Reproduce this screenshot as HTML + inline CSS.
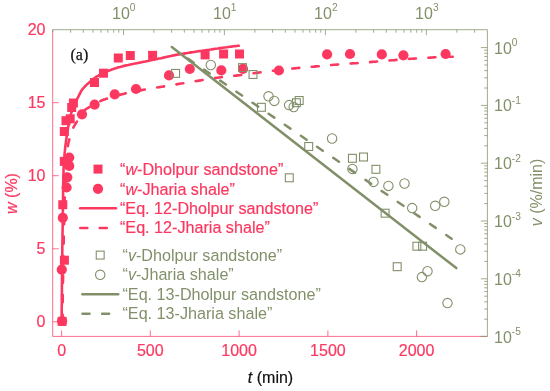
<!DOCTYPE html>
<html><head><meta charset="utf-8"><title>chart</title>
<style>html,body{margin:0;padding:0;background:#fff}svg{display:block}text{font-family:"Liberation Sans",Arial,sans-serif}</style></head>
<body>
<svg width="550" height="391" viewBox="0 0 550 391">
<rect width="550" height="391" fill="#fff"/>
<g stroke="#fc3860" stroke-width="1.0" fill="none" stroke-opacity="0.72">
<path d="M52.7 29.7V336.4H487.4"/>
<path d="M52.7 321.8h6"/>
<path d="M52.7 248.8h6"/>
<path d="M52.7 175.7h6"/>
<path d="M52.7 102.7h6"/>
<path d="M61.6 336.4v-6"/>
<path d="M150.3 336.4v-6"/>
<path d="M239.1 336.4v-6"/>
<path d="M327.9 336.4v-6"/>
<path d="M416.6 336.4v-6"/>
</g>
<g stroke="#82906a" stroke-width="1.0" fill="none" stroke-opacity="0.75">
<path d="M52.7 32.2V29.7H487.4V336.4H480.4"/>
<path d="M70.6 29.7v3"/>
<path d="M83.3 29.7v3"/>
<path d="M93.0 29.7v3"/>
<path d="M101.0 29.7v3"/>
<path d="M107.8 29.7v3"/>
<path d="M113.7 29.7v3"/>
<path d="M118.8 29.7v3"/>
<path d="M123.5 29.7v5.5"/>
<path d="M153.9 29.7v3"/>
<path d="M171.6 29.7v3"/>
<path d="M184.3 29.7v3"/>
<path d="M194.0 29.7v3"/>
<path d="M202.0 29.7v3"/>
<path d="M208.8 29.7v3"/>
<path d="M214.7 29.7v3"/>
<path d="M219.8 29.7v3"/>
<path d="M224.4 29.7v5.5"/>
<path d="M254.9 29.7v3"/>
<path d="M272.6 29.7v3"/>
<path d="M285.3 29.7v3"/>
<path d="M295.0 29.7v3"/>
<path d="M303.0 29.7v3"/>
<path d="M309.8 29.7v3"/>
<path d="M315.7 29.7v3"/>
<path d="M320.8 29.7v3"/>
<path d="M325.4 29.7v5.5"/>
<path d="M355.9 29.7v3"/>
<path d="M373.6 29.7v3"/>
<path d="M386.3 29.7v3"/>
<path d="M396.0 29.7v3"/>
<path d="M404.0 29.7v3"/>
<path d="M410.8 29.7v3"/>
<path d="M416.7 29.7v3"/>
<path d="M421.8 29.7v3"/>
<path d="M426.4 29.7v5.5"/>
<path d="M456.9 29.7v3"/>
<path d="M474.6 29.7v3"/>
<path d="M487.4 319.2h-3.2"/>
<path d="M487.4 309.0h-3.2"/>
<path d="M487.4 301.8h-3.2"/>
<path d="M487.4 296.2h-3.2"/>
<path d="M487.4 291.6h-3.2"/>
<path d="M487.4 287.8h-3.2"/>
<path d="M487.4 284.4h-3.2"/>
<path d="M487.4 281.4h-3.2"/>
<path d="M487.4 278.8h-6.5"/>
<path d="M487.4 261.4h-3.2"/>
<path d="M487.4 251.2h-3.2"/>
<path d="M487.4 244.0h-3.2"/>
<path d="M487.4 238.4h-3.2"/>
<path d="M487.4 233.8h-3.2"/>
<path d="M487.4 230.0h-3.2"/>
<path d="M487.4 226.6h-3.2"/>
<path d="M487.4 223.6h-3.2"/>
<path d="M487.4 221.0h-6.5"/>
<path d="M487.4 203.6h-3.2"/>
<path d="M487.4 193.4h-3.2"/>
<path d="M487.4 186.2h-3.2"/>
<path d="M487.4 180.6h-3.2"/>
<path d="M487.4 176.0h-3.2"/>
<path d="M487.4 172.2h-3.2"/>
<path d="M487.4 168.8h-3.2"/>
<path d="M487.4 165.8h-3.2"/>
<path d="M487.4 163.2h-6.5"/>
<path d="M487.4 145.8h-3.2"/>
<path d="M487.4 135.6h-3.2"/>
<path d="M487.4 128.4h-3.2"/>
<path d="M487.4 122.8h-3.2"/>
<path d="M487.4 118.2h-3.2"/>
<path d="M487.4 114.4h-3.2"/>
<path d="M487.4 111.0h-3.2"/>
<path d="M487.4 108.0h-3.2"/>
<path d="M487.4 105.4h-6.5"/>
<path d="M487.4 88.0h-3.2"/>
<path d="M487.4 77.8h-3.2"/>
<path d="M487.4 70.6h-3.2"/>
<path d="M487.4 65.0h-3.2"/>
<path d="M487.4 60.4h-3.2"/>
<path d="M487.4 56.6h-3.2"/>
<path d="M487.4 53.2h-3.2"/>
<path d="M487.4 50.2h-3.2"/>
<path d="M487.4 47.6h-6.5"/>
</g>
<g fill="#fc3860" stroke="#fc3860" stroke-width="0.2" font-size="16">
<text x="45.5" y="327.2" text-anchor="end">0</text>
<text x="45.5" y="254.2" text-anchor="end">5</text>
<text x="45.5" y="181.1" text-anchor="end">10</text>
<text x="45.5" y="108.1" text-anchor="end">15</text>
<text x="45.5" y="35.0" text-anchor="end">20</text>
<text x="61.6" y="355.5" text-anchor="middle">0</text>
<text x="150.3" y="355.5" text-anchor="middle">500</text>
<text x="239.1" y="355.5" text-anchor="middle">1000</text>
<text x="327.9" y="355.5" text-anchor="middle">1500</text>
<text x="416.6" y="355.5" text-anchor="middle">2000</text>
</g>
<g fill="#82906a" stroke="none" font-size="16">
<text x="112.0" y="18.6">10<tspan dy="-7.4" font-size="10.2">0</tspan></text>
<text x="213.0" y="18.6">10<tspan dy="-7.4" font-size="10.2">1</tspan></text>
<text x="314.1" y="18.6">10<tspan dy="-7.4" font-size="10.2">2</tspan></text>
<text x="415.1" y="18.6">10<tspan dy="-7.4" font-size="10.2">3</tspan></text>
<text x="494" y="53.6">10<tspan dy="-7.4" font-size="10.2">0</tspan></text>
<text x="494" y="111.4">10<tspan dy="-7.4" font-size="10.2">-1</tspan></text>
<text x="494" y="169.2">10<tspan dy="-7.4" font-size="10.2">-2</tspan></text>
<text x="494" y="227.0">10<tspan dy="-7.4" font-size="10.2">-3</tspan></text>
<text x="494" y="284.8">10<tspan dy="-7.4" font-size="10.2">-4</tspan></text>
<text x="494" y="342.6">10<tspan dy="-7.4" font-size="10.2">-5</tspan></text>
</g>
<text transform="translate(16.7 193.5) rotate(-90)" text-anchor="middle" font-size="16" fill="#fc3860" stroke="#fc3860" stroke-width="0.2"><tspan font-style="italic">w</tspan> (%)</text>
<text transform="translate(542.3 192.5) rotate(-90)" text-anchor="middle" font-size="16" fill="#82906a" stroke="none"><tspan font-style="italic">v</tspan> (%/min)</text>
<text x="270.5" y="383.4" text-anchor="middle" font-size="16" fill="#111" stroke="#111" stroke-width="0.2"><tspan font-style="italic">t</tspan> (min)</text>
<text x="70.5" y="60" font-size="16" fill="#111" stroke="#111" stroke-width="0.25" style="font-family:'Liberation Serif','Times New Roman',serif">(a)</text>
<g fill="#fc3860">
<rect x="57.6" y="316.9" width="9" height="9"/>
<rect x="59.9" y="255.7" width="9" height="9"/>
<rect x="58.3" y="200.2" width="9" height="9"/>
<rect x="59.8" y="156.9" width="9" height="9"/>
<rect x="59.8" y="127.0" width="9" height="9"/>
<rect x="61.5" y="116.2" width="9" height="9"/>
<rect x="65.7" y="114.3" width="9" height="9"/>
<rect x="67.2" y="103.0" width="9" height="9"/>
<rect x="68.9" y="98.5" width="9" height="9"/>
<rect x="90.0" y="78.0" width="9" height="9"/>
<rect x="99.0" y="68.7" width="9" height="9"/>
<rect x="113.8" y="53.5" width="9" height="9"/>
<rect x="125.8" y="51.0" width="9" height="9"/>
<rect x="148.1" y="50.8" width="9" height="9"/>
<rect x="200.6" y="50.4" width="9" height="9"/>
<rect x="219.1" y="49.5" width="9" height="9"/>
<rect x="235.0" y="49.5" width="9" height="9"/>
<rect x="93.5" y="164.6" width="9" height="9"/>
<circle cx="62.1" cy="321" r="5.1"/>
<circle cx="61.8" cy="269.7" r="5.1"/>
<circle cx="62.8" cy="217.8" r="5.1"/>
<circle cx="66.6" cy="187.5" r="5.1"/>
<circle cx="67.3" cy="177.3" r="5.1"/>
<circle cx="69.2" cy="165.9" r="5.1"/>
<circle cx="69.2" cy="157.6" r="5.1"/>
<circle cx="82" cy="114.3" r="5.1"/>
<circle cx="94.6" cy="104.6" r="5.1"/>
<circle cx="114.7" cy="94.4" r="5.1"/>
<circle cx="136" cy="89" r="5.1"/>
<circle cx="169" cy="75.4" r="5.1"/>
<circle cx="189.8" cy="69" r="5.1"/>
<circle cx="221.3" cy="70.4" r="5.1"/>
<circle cx="243" cy="68.9" r="5.1"/>
<circle cx="278.9" cy="70.5" r="5.1"/>
<circle cx="327.1" cy="54.4" r="5.1"/>
<circle cx="350" cy="54" r="5.1"/>
<circle cx="381.8" cy="54.4" r="5.1"/>
<circle cx="403.4" cy="55.3" r="5.1"/>
<circle cx="445.6" cy="54" r="5.1"/>
<circle cx="98" cy="188.8" r="5.1"/>
</g>
<g stroke="#fc3860" stroke-width="2.6" fill="none" stroke-linecap="round">
<path d="M61.6 321.0L61.6 319.5L61.6 317.7L61.7 315.6L61.7 313.3L61.7 310.7L61.7 308.0L61.8 305.1L61.8 302.1L61.8 299.1L61.8 296.0L61.9 293.0L61.9 290.0L61.9 287.0L62.0 283.8L62.0 280.5L62.0 277.1L62.1 273.6L62.1 270.1L62.1 266.6L62.2 263.1L62.2 259.7L62.2 256.4L62.3 253.1L62.3 250.0L62.3 247.0L62.4 244.2L62.4 241.5L62.5 238.8L62.5 236.2L62.5 233.6L62.6 231.0L62.6 228.4L62.7 225.7L62.7 222.9L62.8 220.0L62.8 217.0L62.8 213.7L62.9 210.3L62.9 206.6L63.0 202.9L63.0 199.0L63.1 195.2L63.1 191.4L63.2 187.7L63.2 184.2L63.3 180.8L63.3 177.8L63.4 175.0L63.5 172.6L63.5 170.4L63.6 168.4L63.7 166.6L63.8 165.0L63.9 163.5L63.9 162.1L64.0 160.7L64.1 159.3L64.3 158.0L64.4 156.5L64.5 155.0L64.6 153.4L64.8 151.9L64.9 150.4L65.1 148.9L65.2 147.4L65.4 145.9L65.6 144.5L65.8 143.0L66.0 141.5L66.2 140.0L66.4 138.5L66.6 137.0L66.8 135.4L67.1 133.8L67.4 132.1L67.7 130.4L67.9 128.7L68.2 127.0L68.5 125.3L68.8 123.7L69.1 122.1L69.4 120.7L69.7 119.3L70.0 118.0L70.3 116.8L70.5 115.8L70.8 114.8L71.0 113.9L71.2 113.1L71.5 112.3L71.7 111.6L72.0 110.9L72.2 110.1L72.5 109.4L72.7 108.7L73.0 108.0L73.3 107.2L73.6 106.5L73.9 105.7L74.3 105.0L74.6 104.3L74.9 103.6L75.3 102.9L75.6 102.2L75.9 101.6L76.2 101.0L76.5 100.5L76.7 100.0L76.9 99.6L77.1 99.2L77.2 98.9L77.4 98.6L77.5 98.4L77.6 98.1L77.7 97.9L77.8 97.7L77.9 97.5L78.0 97.3L78.2 97.1L78.3 96.8L78.4 96.5L78.6 96.2L78.8 95.9L78.9 95.6L79.1 95.2L79.2 94.9L79.4 94.6L79.5 94.3L79.7 93.9L79.9 93.6L80.0 93.3L80.2 93.0L80.4 92.7L80.5 92.4L80.7 92.1L80.8 91.8L81.0 91.6L81.1 91.3L81.3 91.0L81.4 90.7L81.6 90.5L81.8 90.2L82.0 89.9L82.2 89.6L82.4 89.3L82.7 89.0L82.9 88.7L83.2 88.3L83.5 88.0L83.8 87.7L84.1 87.4L84.4 87.1L84.7 86.7L85.0 86.5L85.2 86.2L85.5 85.9L85.7 85.6L86.0 85.4L86.2 85.2L86.5 84.9L86.7 84.7L86.9 84.5L87.2 84.3L87.4 84.1L87.6 83.9L87.8 83.8L88.0 83.6L88.2 83.4L88.4 83.2L88.5 83.1L88.7 82.9L88.8 82.8L89.0 82.7L89.1 82.6L89.2 82.5L89.4 82.3L89.5 82.2L89.7 82.1L89.8 81.9L90.0 81.8L90.2 81.6L90.4 81.5L90.6 81.3L90.8 81.1L91.0 81.0L91.2 80.8L91.4 80.6L91.6 80.4L91.8 80.3L92.0 80.1L92.3 79.9L92.5 79.7L92.7 79.5L93.0 79.3L93.2 79.1L93.4 78.9L93.7 78.7L93.9 78.5L94.2 78.3L94.4 78.2L94.7 78.0L95.0 77.8L95.2 77.6L95.5 77.4L95.8 77.2L96.0 77.0L96.3 76.9L96.6 76.7L96.9 76.5L97.2 76.4L97.5 76.2L97.8 76.0L98.1 75.9L98.4 75.7L98.7 75.6L99.0 75.4L99.3 75.2L99.6 75.1L99.9 75.0L100.2 74.8L100.5 74.7L100.8 74.5L101.1 74.4L101.4 74.2L101.8 74.1L102.2 73.9L102.6 73.7L103.0 73.5L103.5 73.3L103.9 73.0L104.4 72.8L104.9 72.5L105.5 72.2L106.0 72.0L106.6 71.7L107.2 71.4L107.8 71.1L108.5 70.8L109.2 70.5L110.0 70.2L110.8 69.9L111.7 69.6L112.6 69.3L113.6 68.9L114.6 68.6L115.6 68.3L116.7 67.9L117.7 67.6L118.8 67.3L119.9 67.0L120.9 66.7L122.0 66.4L123.0 66.1L124.1 65.9L125.1 65.6L126.2 65.4L127.2 65.2L128.3 65.0L129.4 64.7L130.5 64.5L131.6 64.3L132.7 64.1L133.8 63.8L135.0 63.6L136.2 63.3L137.4 63.1L138.7 62.8L140.0 62.6L141.4 62.3L142.7 62.0L144.0 61.7L145.3 61.5L146.6 61.2L147.8 61.0L148.9 60.7L150.0 60.5L151.0 60.3L151.9 60.1L152.7 59.9L153.5 59.8L154.3 59.6L155.0 59.5L155.7 59.3L156.5 59.2L157.3 59.0L158.1 58.8L159.0 58.6L160.0 58.4L161.1 58.2L162.2 57.9L163.4 57.6L164.6 57.4L165.9 57.1L167.2 56.8L168.5 56.5L169.8 56.2L171.1 55.9L172.4 55.6L173.7 55.4L175.0 55.1L176.2 54.9L177.5 54.6L178.8 54.4L180.0 54.2L181.2 54.0L182.5 53.8L183.8 53.6L185.0 53.4L186.2 53.2L187.5 53.0L188.8 52.8L190.0 52.6L191.2 52.4L192.4 52.2L193.5 52.0L194.6 51.9L195.7 51.7L196.9 51.5L198.0 51.3L199.3 51.1L200.5 51.0L201.9 50.8L203.4 50.5L205.0 50.3L206.8 50.0L208.8 49.8L210.9 49.5L213.2 49.1L215.5 48.8L217.9 48.5L220.2 48.1L222.5 47.8L224.7 47.5L226.7 47.3L228.5 47.0L230.0 46.8L231.3 46.6L232.5 46.5L233.5 46.3L234.5 46.2L235.3 46.1L236.0 46.0L236.6 46.0L237.1 45.9L237.6 45.8L238.0 45.8L238.4 45.7L238.8 45.7"/>
<path d="M62.5 321.0L62.5 319.0L62.6 316.6L62.6 313.7L62.6 310.4L62.7 306.9L62.7 303.2L62.7 299.3L62.8 295.3L62.8 291.4L62.9 287.4L62.9 283.6L63.0 280.0L63.1 276.5L63.1 273.0L63.2 269.5L63.2 266.0L63.3 262.4L63.4 258.9L63.4 255.3L63.5 251.7L63.6 248.1L63.6 244.4L63.7 240.7L63.8 237.0L63.9 233.2L64.0 229.2L64.1 225.1L64.2 221.0L64.3 216.8L64.4 212.7L64.5 208.6L64.6 204.6L64.7 200.6L64.8 196.9L64.9 193.3L65.0 190.0L65.1 186.9L65.2 183.8L65.4 180.9L65.5 178.1L65.6 175.5L65.7 172.9L65.9 170.5L66.0 168.2L66.1 166.0L66.3 163.9L66.4 161.9L66.5 160.0L66.6 158.3L66.7 156.7L66.8 155.3L67.0 154.0L67.1 152.8L67.2 151.7L67.3 150.7L67.4 149.7L67.5 148.8L67.6 147.9L67.8 147.0L67.9 146.1L68.0 145.2L68.2 144.4L68.3 143.7L68.4 143.0L68.6 142.3L68.7 141.7L68.9 141.1L69.1 140.4L69.2 139.8L69.4 139.2L69.6 138.5L69.8 137.8L70.0 137.0L70.2 136.3L70.5 135.5L70.7 134.7L71.0 133.9L71.2 133.1L71.5 132.3L71.8 131.4L72.1 130.7L72.4 129.9L72.7 129.1L73.0 128.4L73.3 127.7L73.6 127.0L74.0 126.4L74.3 125.8L74.7 125.2L75.0 124.6L75.4 124.0L75.8 123.4L76.2 122.8L76.6 122.1L77.0 121.4L77.5 120.7L78.0 119.9L78.5 119.1L79.1 118.2L79.7 117.3L80.3 116.3L80.9 115.4L81.5 114.5L82.1 113.5L82.7 112.7L83.3 111.9L83.9 111.1L84.5 110.5L85.1 109.9L85.6 109.5L86.1 109.0L86.6 108.7L87.2 108.3L87.7 108.1L88.2 107.8L88.7 107.5L89.3 107.2L89.8 107.0L90.4 106.6L91.0 106.3L91.6 105.9L92.3 105.5L92.9 105.1L93.6 104.7L94.3 104.3L95.0 103.9L95.7 103.5L96.4 103.1L97.1 102.7L97.8 102.3L98.5 101.9L99.2 101.6L99.9 101.3L100.5 101.0L101.1 100.8L101.6 100.5L102.2 100.3L102.8 100.1L103.4 99.8L104.0 99.6L104.8 99.4L105.6 99.1L106.5 98.8L107.5 98.5L108.6 98.1L109.9 97.8L111.2 97.4L112.6 96.9L114.0 96.5L115.5 96.1L117.1 95.6L118.6 95.2L120.2 94.7L121.8 94.3L123.4 93.9L125.0 93.5L126.6 93.1L128.2 92.8L129.8 92.4L131.5 92.1L133.2 91.7L134.9 91.4L136.6 91.1L138.3 90.7L140.0 90.4L141.7 90.1L143.3 89.8L145.0 89.5L146.6 89.2L148.3 88.9L149.9 88.6L151.6 88.4L153.2 88.1L154.8 87.9L156.4 87.6L158.1 87.3L159.7 87.1L161.3 86.8L163.0 86.6L164.6 86.3L166.2 86.0L167.9 85.8L169.6 85.5L171.2 85.2L172.9 84.9L174.5 84.6L176.2 84.4L177.8 84.1L179.5 83.8L181.1 83.5L182.8 83.3L184.4 83.0L186.0 82.7L187.7 82.5L189.3 82.2L191.0 81.9L192.6 81.7L194.2 81.4L195.8 81.1L197.4 80.9L199.0 80.6L200.5 80.4L202.0 80.1L203.5 79.9L204.9 79.7L206.3 79.5L207.6 79.2L208.8 79.0L210.1 78.8L211.3 78.6L212.5 78.4L213.7 78.3L215.0 78.1L216.3 77.9L217.6 77.7L219.0 77.5L220.4 77.3L221.9 77.1L223.4 77.0L225.0 76.8L226.5 76.6L228.1 76.5L229.7 76.3L231.3 76.1L232.9 76.0L234.5 75.8L236.1 75.6L237.7 75.4L239.3 75.2L240.9 75.0L242.6 74.8L244.2 74.5L245.9 74.3L247.6 74.1L249.2 73.9L250.9 73.6L252.5 73.4L254.0 73.2L255.5 73.0L257.0 72.8L258.4 72.6L259.6 72.5L260.8 72.3L262.0 72.1L263.1 72.0L264.2 71.9L265.3 71.7L266.5 71.6L267.7 71.4L269.0 71.3L270.4 71.1L272.0 70.9L273.7 70.7L275.5 70.5L277.4 70.3L279.4 70.0L281.5 69.8L283.6 69.6L285.7 69.3L287.9 69.1L290.0 68.8L292.0 68.6L294.1 68.4L296.0 68.2L297.9 68.0L299.8 67.8L301.6 67.7L303.5 67.5L305.3 67.3L307.2 67.2L309.0 67.0L310.7 66.9L312.5 66.7L314.2 66.6L315.9 66.4L317.5 66.3L319.1 66.2L320.6 66.0L322.1 65.9L323.6 65.7L325.0 65.6L326.4 65.5L327.8 65.3L329.2 65.2L330.6 65.1L332.0 65.0L333.5 64.8L335.0 64.7L336.5 64.6L338.1 64.5L339.6 64.3L341.2 64.2L342.8 64.1L344.4 64.0L346.0 63.9L347.6 63.8L349.2 63.7L350.8 63.5L352.4 63.4L354.0 63.3L355.6 63.2L357.2 63.1L358.9 62.9L360.5 62.8L362.1 62.7L363.8 62.6L365.4 62.4L367.1 62.3L368.7 62.2L370.3 62.1L372.0 61.9L373.6 61.8L375.2 61.7L376.8 61.5L378.5 61.4L380.1 61.3L381.7 61.1L383.3 61.0L384.9 60.9L386.5 60.7L388.2 60.6L389.8 60.5L391.4 60.3L393.0 60.2L394.6 60.1L396.2 59.9L397.8 59.8L399.4 59.7L401.0 59.6L402.6 59.4L404.2 59.3L405.8 59.2L407.4 59.1L409.1 58.9L410.7 58.8L412.3 58.7L413.9 58.6L415.6 58.5L417.2 58.4L418.9 58.3L420.6 58.2L422.2 58.0L423.9 57.9L425.5 57.9L427.2 57.8L428.8 57.7L430.4 57.6L432.0 57.5L433.6 57.4L435.3 57.3L437.0 57.3L438.7 57.2L440.4 57.1L442.1 57.1L443.7 57.0L445.2 57.0L446.6 56.9L447.9 56.9L449.0 56.8L450.0 56.8L450.8 56.8L451.4 56.7L451.8 56.7L452.1 56.7L452.3 56.7L452.5 56.7L452.5 56.7L452.6 56.7L452.6 56.7L452.6 56.7L452.6 56.7L452.7 56.7" stroke-dasharray="7.0 12.510000000000002" stroke-dashoffset="0.66"/>
<path d="M80.2 208.3H115.9"/>
<path d="M80.3 228H108" stroke-dasharray="7 12.5"/>
</g>
<g stroke="#82906a" stroke-width="1.1" fill="none">
<rect x="171.65" y="69.45" width="7.9" height="7.9"/>
<rect x="238.55" y="63.65" width="7.9" height="7.9"/>
<rect x="249.05" y="70.55" width="7.9" height="7.9"/>
<rect x="257.45" y="103.35" width="7.9" height="7.9"/>
<rect x="295.25" y="96.55" width="7.9" height="7.9"/>
<rect x="292.45" y="98.75" width="7.9" height="7.9"/>
<rect x="304.75" y="142.55" width="7.9" height="7.9"/>
<rect x="285.35" y="173.85" width="7.9" height="7.9"/>
<rect x="348.45" y="154.35" width="7.9" height="7.9"/>
<rect x="359.55" y="153.05" width="7.9" height="7.9"/>
<rect x="371.95" y="165.35" width="7.9" height="7.9"/>
<rect x="381.15" y="209.25" width="7.9" height="7.9"/>
<rect x="412.95" y="242.25" width="7.9" height="7.9"/>
<rect x="418.65" y="242.25" width="7.9" height="7.9"/>
<rect x="393.25" y="262.75" width="7.9" height="7.9"/>
<rect x="96.25" y="251.15" width="7.9" height="7.9"/>
<circle cx="210.8" cy="65" r="4.7"/>
<circle cx="268.5" cy="96.3" r="4.7"/>
<circle cx="274.3" cy="100.9" r="4.7"/>
<circle cx="289.1" cy="105.1" r="4.7"/>
<circle cx="293.7" cy="107" r="4.7"/>
<circle cx="332.1" cy="138.5" r="4.7"/>
<circle cx="352.4" cy="168.9" r="4.7"/>
<circle cx="373.5" cy="181.9" r="4.7"/>
<circle cx="388.4" cy="185.9" r="4.7"/>
<circle cx="404.5" cy="183.5" r="4.7"/>
<circle cx="412.2" cy="208.1" r="4.7"/>
<circle cx="435.2" cy="205.8" r="4.7"/>
<circle cx="444.3" cy="201.8" r="4.7"/>
<circle cx="460.3" cy="249.4" r="4.7"/>
<circle cx="427.5" cy="271.2" r="4.7"/>
<circle cx="421.9" cy="277.1" r="4.7"/>
<circle cx="447.5" cy="303.1" r="4.7"/>
<circle cx="100.2" cy="274.8" r="4.7"/>
</g>
<g stroke="#82906a" stroke-width="2.5" fill="none" stroke-linecap="round">
<path d="M171.8 47L456.3 268.1"/>
<path d="M187.9 58.6L451.6 238.7" stroke-dasharray="6.9 12.65"/>
<path d="M82.4 294.3H118.2"/>
<path d="M82.5 313.8H110" stroke-dasharray="7 12.6"/>
</g>
<g fill="#fc3860" stroke="#fc3860" stroke-width="0.2" font-size="16.15">
<text x="120" y="175">“<tspan font-style="italic">w</tspan>-Dholpur sandstone”</text>
<text x="120" y="194.6">“<tspan font-style="italic">w</tspan>-Jharia shale”</text>
<text x="120" y="214.1">“Eq. 12-Dholpur sandstone”</text>
<text x="120" y="233.4">“Eq. 12-Jharia shale”</text>
</g>
<g fill="#82906a" stroke="none" font-size="16.15">
<text x="122.5" y="261.1">“<tspan font-style="italic">v</tspan>-Dholpur sandstone”</text>
<text x="122.5" y="280.4">“<tspan font-style="italic">v</tspan>-Jharia shale”</text>
<text x="122.5" y="299.8">“Eq. 13-Dholpur sandstone”</text>
<text x="122.5" y="319">“Eq. 13-Jharia shale”</text>
</g>
</svg>
</body></html>
